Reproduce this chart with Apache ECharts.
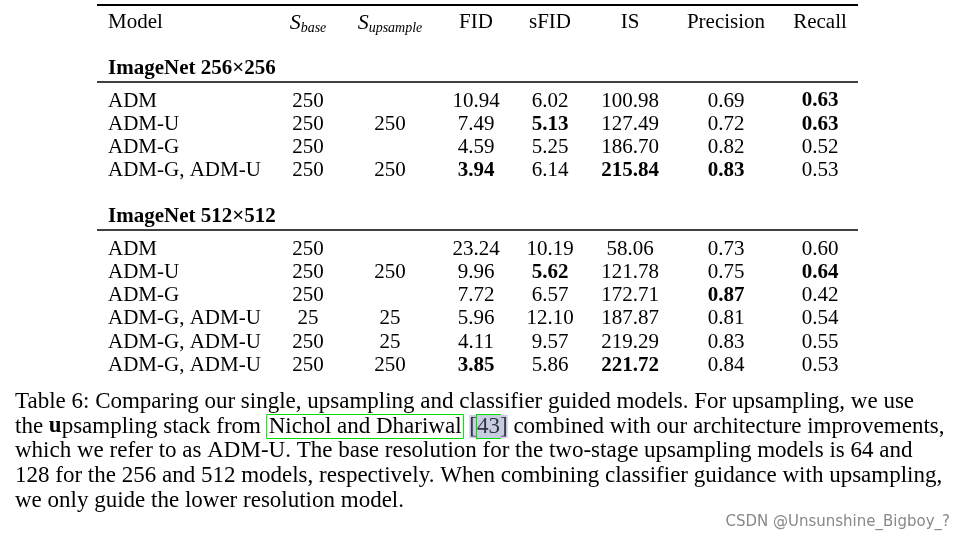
<!DOCTYPE html><html><head><meta charset="utf-8"><script src="https://cdn.jsdelivr.net/npm/echarts@6/dist/echarts.min.js"></script>
<style>html,body{margin:0;background:#fff}#c{width:966px;height:542px}</style></head><body><div id="c"></div><script>
const headers=['Model','S|base','S|upsample','FID','sFID','IS','Precision','Recall'];
const group1='ImageNet 256×256';
const rows1=[['ADM','250','','10.94','6.02','100.98','0.69','0.63'],['ADM-U','250','250','7.49','5.13','127.49','0.72','0.63'],['ADM-G','250','','4.59','5.25','186.70','0.82','0.52'],['ADM-G, ADM-U','250','250','3.94','6.14','215.84','0.83','0.53']];
const bold1=[[0,7],[1,4],[1,7],[3,3],[3,5],[3,6]];
const group2='ImageNet 512×512';
const rows2=[['ADM','250','','23.24','10.19','58.06','0.73','0.60'],['ADM-U','250','250','9.96','5.62','121.78','0.75','0.64'],['ADM-G','250','','7.72','6.57','172.71','0.87','0.42'],['ADM-G, ADM-U','25','25','5.96','12.10','187.87','0.81','0.54'],['ADM-G, ADM-U','250','25','4.11','9.57','219.29','0.83','0.55'],['ADM-G, ADM-U','250','250','3.85','5.86','221.72','0.84','0.53']];
const bold2=[[1,4],[1,7],[2,6],[5,3],[5,5]];
const caption=[
'{t|Table 6: Comparing our single, upsampling and classifier guided models. For upsampling, we use}',
'{t|the }{b|u}{t|psampling stack from }{box|Nichol and Dhariwal}{t| }{ref|[}{refb|43}{ref|]}{t| combined with our architecture improvements,}',
'{t|which we refer to as ADM-U. The base resolution for the two-stage upsampling models is 64 and}',
'{t|128 for the 256 and 512 models, respectively. When combining classifier guidance with upsampling,}',
'{t|we only guide the lower resolution model.}'];
const watermark='CSDN @Unsunshine_Bigboy_?';

const F='"Liberation Serif","Times New Roman",serif';
const colX=[108,308,390,476,550,630,726,820];
const g=[];
const TF='21px '+F;
function txt(x,y,s,opt){g.push({type:'text',x,y,style:Object.assign({text:s,font:TF,fill:'#000',textAlign:'center',textVerticalAlign:'middle'},opt||{})});}
headers.forEach((h,i)=>{
  if(h.includes('|')){const [a,b]=h.split('|');
    g.push({type:'text',x:colX[i],y:23,style:{text:'{s|'+a+'}{u|'+b+'}',textAlign:'center',textVerticalAlign:'middle',rich:{s:{font:'italic 22px '+F,fill:'#000'},u:{font:'italic 14px '+F,fill:'#000',padding:[10,0,0,0]}}}});
  } else txt(colX[i],22,h,i===0?{textAlign:'left'}:{});
});
function line(y,w){g.push({type:'line',shape:{x1:97,y1:y,x2:858,y2:y},style:{stroke:'#000',lineWidth:w}});}
line(5,2);
function block(title,ty,rows,bold){
  txt(108,ty+1,title,{textAlign:'left',font:'bold '+TF});
  line(ty+14,1.5);
  rows.forEach((r,ri)=>{const y=ty+33+ri*23.3;
    r.forEach((v,ci)=>{if(!v)return;const b=bold.some(p=>p[0]===ri&&p[1]===ci);
      txt(ci===0?108:colX[ci],y,v,{textAlign:ci===0?'left':'center',font:(b?'bold ':'')+TF});});});
}
block(group1,68,rows1,bold1);
block(group2,216,rows2,bold2);
const CF='23px '+F;
const rich={t:{font:CF,fill:'#000'},b:{font:'bold '+CF,fill:'#000'},box:{font:CF,fill:'#000',borderColor:'#00dd00',borderWidth:1,padding:[1,2,0,2]},ref:{font:CF,fill:'#334',backgroundColor:'#c8cce0'},refb:{font:CF,fill:'#334',backgroundColor:'#c8cce0',borderColor:'#00dd00',borderWidth:1}};
caption.forEach((c,i)=>{g.push({type:'text',x:15,y:402+i*24.5+(i===4?1:0),style:{text:c,rich,textAlign:'left',textVerticalAlign:'middle'}});});
g.push({type:'text',x:950,y:522,style:{text:watermark,font:'15px "DejaVu Sans",sans-serif',fill:'#888',textAlign:'right',textVerticalAlign:'middle'}});
const ch=echarts.init(document.getElementById('c'));
ch.setOption({animation:false,graphic:g});
</script></body></html>
